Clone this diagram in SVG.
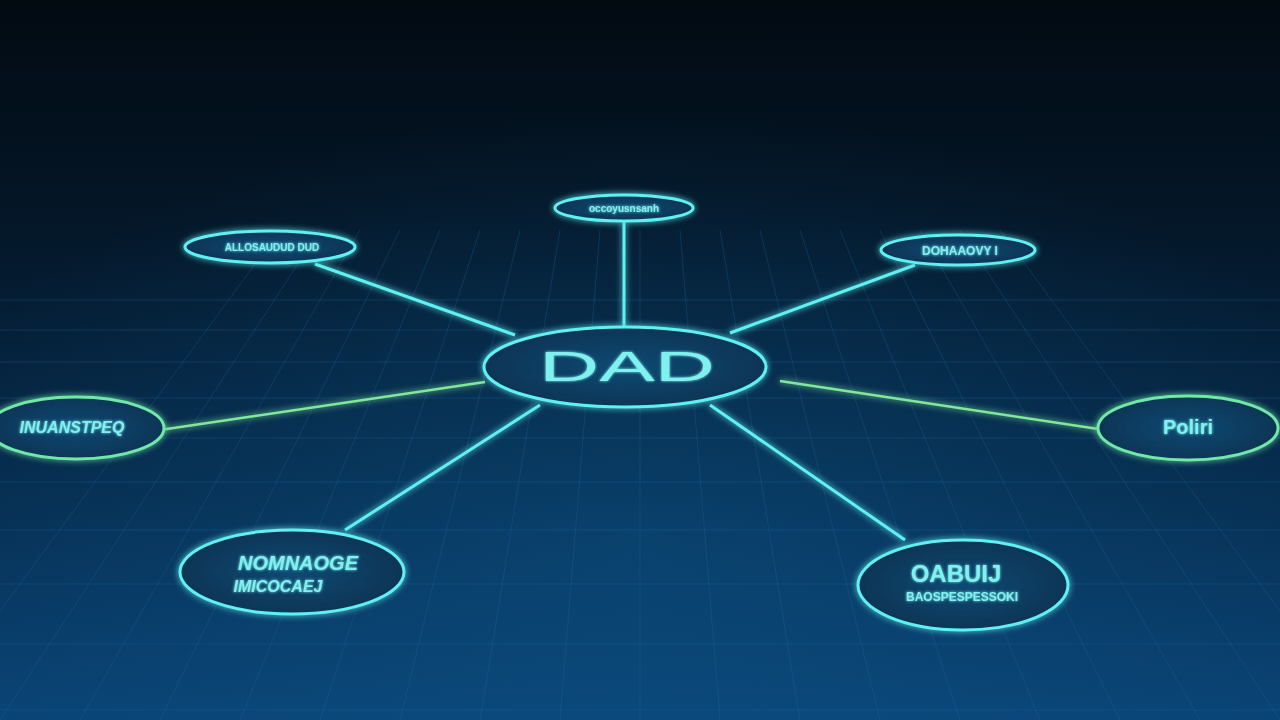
<svg xmlns="http://www.w3.org/2000/svg" width="1280" height="720" viewBox="0 0 1280 720">
<defs>
<linearGradient id="bg" x1="0" y1="0" x2="0" y2="1">
<stop offset="0" stop-color="#020a12"/>
<stop offset="0.3" stop-color="#041627"/>
<stop offset="0.65" stop-color="#062a4a"/>
<stop offset="1" stop-color="#0a4476"/>
</linearGradient>
<radialGradient id="spot" cx="0.5" cy="0.75" r="0.6">
<stop offset="0" stop-color="#0d5a90" stop-opacity="0.4"/>
<stop offset="1" stop-color="#0d5a90" stop-opacity="0"/>
</radialGradient>
<radialGradient id="nodefill" cx="0.5" cy="0.5" r="0.5">
<stop offset="0" stop-color="#0d4a73"/>
<stop offset="1" stop-color="#093556"/>
</radialGradient>
<filter id="glow" x="-30%" y="-60%" width="160%" height="220%">
<feGaussianBlur in="SourceGraphic" stdDeviation="3" result="b"/>
<feMerge><feMergeNode in="b"/><feMergeNode in="SourceGraphic"/></feMerge>
</filter>
<filter id="eglow" filterUnits="userSpaceOnUse" x="0" y="0" width="1280" height="720">
<feGaussianBlur in="SourceGraphic" stdDeviation="3" result="b"/>
<feMerge><feMergeNode in="b"/><feMergeNode in="SourceGraphic"/></feMerge>
</filter>
<filter id="tglow" x="-20%" y="-50%" width="140%" height="200%">
<feGaussianBlur in="SourceGraphic" stdDeviation="1.5" result="b"/>
<feMerge><feMergeNode in="b"/><feMergeNode in="SourceGraphic"/></feMerge>
</filter>
<style>
.grid line{stroke:#1a6aa8;stroke-width:1;opacity:0.3}
.ring{fill:url(#nodefill);stroke:#5ff0f2;stroke-width:3;filter:url(#glow)}
.ringg{fill:url(#nodefill);stroke:#6fe8a8;stroke-width:3;filter:url(#glow)}
.lbl{font-family:"Liberation Sans",Arial,sans-serif;fill:#7ff2f0;text-anchor:middle;font-weight:bold;filter:url(#tglow)}
.big{font-family:"Liberation Sans",Arial,sans-serif;fill:#7ff2f0;text-anchor:middle;font-weight:normal;filter:url(#tglow)}
.edge{stroke:#5ff0f2;stroke-width:3;fill:none;filter:url(#eglow)}
.edgeg{stroke:#7fe89a;stroke-width:2.5;fill:none;filter:url(#eglow)}
</style>
</defs>
<rect width="1280" height="720" fill="url(#bg)"/>
<rect width="1280" height="720" fill="url(#spot)"/>
<g class="grid">
<line x1="0" y1="300" x2="1280" y2="300"/>
<line x1="0" y1="330" x2="1280" y2="330"/>
<line x1="0" y1="362" x2="1280" y2="362"/>
<line x1="0" y1="398" x2="1280" y2="398"/>
<line x1="0" y1="438" x2="1280" y2="438"/>
<line x1="0" y1="482" x2="1280" y2="482"/>
<line x1="0" y1="530" x2="1280" y2="530"/>
<line x1="0" y1="584" x2="1280" y2="584"/>
<line x1="0" y1="644" x2="1280" y2="644"/>
<line x1="0" y1="710" x2="1280" y2="710"/>
<line x1="640" y1="230" x2="640" y2="720"/>
<line x1="600" y1="230" x2="560" y2="720"/>
<line x1="680" y1="230" x2="720" y2="720"/>
<line x1="560" y1="230" x2="480" y2="720"/>
<line x1="720" y1="230" x2="800" y2="720"/>
<line x1="520" y1="230" x2="400" y2="720"/>
<line x1="760" y1="230" x2="880" y2="720"/>
<line x1="480" y1="230" x2="320" y2="720"/>
<line x1="800" y1="230" x2="960" y2="720"/>
<line x1="440" y1="230" x2="240" y2="720"/>
<line x1="840" y1="230" x2="1040" y2="720"/>
<line x1="400" y1="230" x2="160" y2="720"/>
<line x1="880" y1="230" x2="1120" y2="720"/>
<line x1="360" y1="230" x2="80" y2="720"/>
<line x1="920" y1="230" x2="1200" y2="720"/>
<line x1="320" y1="230" x2="0" y2="720"/>
<line x1="960" y1="230" x2="1280" y2="720"/>
<line x1="280" y1="230" x2="-80" y2="720"/>
<line x1="1000" y1="230" x2="1360" y2="720"/>
</g>
<g id="connectors">
<line class="edge" x1="624" y1="222" x2="624" y2="326"/>
<line class="edge" x1="315" y1="264" x2="515" y2="335"/>
<line class="edge" x1="915" y1="265" x2="730" y2="333"/>
<line class="edgeg" x1="160" y1="430" x2="485" y2="382"/>
<line class="edgeg" x1="780" y1="381" x2="1105" y2="430"/>
<line class="edge" x1="345" y1="530" x2="540" y2="405"/>
<line class="edge" x1="710" y1="405" x2="905" y2="540"/>
</g>
<g id="node-center">
<ellipse class="ring" cx="625" cy="367" rx="141" ry="40"/>
<text class="big" x="627" y="381" font-size="43" textLength="176" lengthAdjust="spacingAndGlyphs">DAD</text>
</g>
<g id="node-top">
<ellipse class="ring" cx="624" cy="208" rx="69" ry="13"/>
<text class="lbl" x="624" y="212" font-size="10">occoyusnsanh</text>
</g>
<g id="node-top-left">
<ellipse class="ring" cx="270" cy="247" rx="85" ry="16"/>
<text class="lbl" x="272" y="251" font-size="10">ALLOSAUDUD DUD</text>
</g>
<g id="node-top-right">
<ellipse class="ring" cx="958" cy="250" rx="77" ry="15"/>
<text class="lbl" x="960" y="255" font-size="12">DOHAAOVY I</text>
</g>
<g id="node-left">
<ellipse class="ringg" cx="76" cy="428" rx="88" ry="31"/>
<text class="lbl" x="72" y="433" font-size="16" font-style="italic">INUANSTPEQ</text>
</g>
<g id="node-right">
<ellipse class="ringg" cx="1188" cy="428" rx="90" ry="32"/>
<text class="lbl" x="1188" y="434" font-size="20">Poliri</text>
</g>
<g id="node-bottom-left">
<ellipse class="ring" cx="292" cy="572" rx="112" ry="42"/>
<text class="lbl" x="298" y="570" font-size="20" font-style="italic">NOMNAOGE</text>
<text class="lbl" x="278" y="592" font-size="16" font-style="italic">IMICOCAEJ</text>
</g>
<g id="node-bottom-right">
<ellipse class="ring" cx="963" cy="585" rx="105" ry="45"/>
<text class="lbl" x="956" y="582" font-size="24">OABUIJ</text>
<text class="lbl" x="962" y="601" font-size="12">BAOSPESPESSOKI</text>
</g>
</svg>
